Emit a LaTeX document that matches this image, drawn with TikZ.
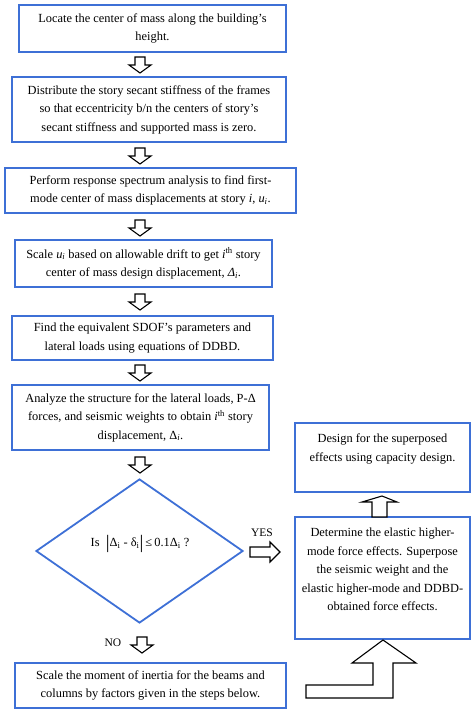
\documentclass[tikz,border=0pt]{standalone}
\usepackage{fontspec}
\setmainfont{Liberation Serif}
\usetikzlibrary{shapes.geometric}
\definecolor{boxblue}{RGB}{62,112,214}
\newcommand{\bigbar}{{\fontsize{19}{19}\selectfont\raisebox{-0.12em}{|}}}
\begin{document}
\begin{tikzpicture}[x=1pt,y=-1pt,
  box/.style={draw=boxblue, line width=1.8pt, fill=white, inner sep=0pt, align=center, font=\fontsize{12.4}{18.5}\selectfont},
  txt/.style={align=center, font=\fontsize{12.4}{18.5}\selectfont, inner sep=0pt},
  lbl/.style={font=\fontsize{11.5}{14}\selectfont, inner sep=0pt},
  hollow/.style={draw=black, line width=1.1pt, fill=white, line join=miter},
  downarr/.pic={\draw[hollow] (-5,0) -- (5,0) -- (5,8) -- (11,8) -- (0,16) -- (-11,8) -- (-5,8) -- cycle;}
]
\useasboundingbox (0,0) rectangle (474,714);

\node[box, minimum width=267, minimum height=47] (b1) at (152.5,28.5)
  {Locate the center of mass along the building’s\\height.};
\node[box, minimum width=274, minimum height=65] (b2) at (149,109.5)
  {Distribute the story secant stiffness of the frames\\so that eccentricity b/n the centers of story’s\\secant stiffness and supported mass is zero.};
\node[box, minimum width=291, minimum height=45] (b3) at (150.5,190.5)
  {Perform response spectrum analysis to find first-\\mode center of mass displacements at story \textit{i}, \textit{u\textsubscript{i}}.};
\node[box, minimum width=257, minimum height=47] (b4) at (143.5,263.5)
  {Scale \textit{u\textsubscript{i}} based on allowable drift to get \textit{i}\textsuperscript{th} story\\center of mass design displacement, \textit{Δ\textsubscript{i}}.};
\node[box, minimum width=261, minimum height=44] (b5) at (142.5,338)
  {Find the equivalent SDOF’s parameters and\\lateral loads using equations of DDBD.};
\node[box, minimum width=257, minimum height=65] (b6) at (140.5,417.5)
  {Analyze the structure for the lateral loads, P-Δ\\forces, and seismic weights to obtain \textit{i}\textsuperscript{th} story\\displacement, Δ\textsubscript{\textit{i}}.};
\node[diamond, draw=boxblue, line width=1.8pt, aspect=1.44, minimum width=207, minimum height=144, inner sep=0pt] (d) at (139.5,551) {};
\node[txt] (dt) at (140,544) {Is\ \ \bigbar Δ\textsubscript{i} - δ\textsubscript{i}\bigbar\,≤\,0.1Δ\textsubscript{i} ?};
\node[box, minimum width=271, minimum height=45] (b7) at (150.5,685.5)
  {Scale the moment of inertia for the beams and\\columns by factors given in the steps below.};
\node[box, minimum width=175, minimum height=122] (r1) at (382.5,578) {};
\node[txt] (r1t) at (382.5,569.5)
  {Determine the elastic higher-\\mode force effects. Superpose\\the seismic weight and the\\elastic higher-mode and DDBD-\\obtained force effects.};
\node[box, minimum width=175, minimum height=69] (r2) at (382.5,457.5) {};
\node[txt] (r2t) at (382.5,449)
  {Design for the superposed\\effects using capacity design.};

\node[lbl] (yes) at (262,533) {YES};
\node[lbl] (no) at (113,643) {NO};

\pic at (140,57) {downarr};
\pic at (140,148) {downarr};
\pic at (140,220) {downarr};
\pic at (140,294) {downarr};
\pic at (140,365) {downarr};
\pic at (140,457) {downarr};
\pic at (142,637) {downarr};

\draw[hollow] (250,547) -- (270,547) -- (270,542) -- (280,552) -- (270,562) -- (270,557) -- (250,557) -- cycle;
\draw[hollow] (372,517) -- (372,502) -- (362,502) -- (382,496) -- (397,502) -- (387,502) -- (387,517) -- cycle;
\draw[hollow] (306,685) -- (373,685) -- (373,663) -- (352,663) -- (383,640) -- (416,663) -- (393,663) -- (393,698) -- (306,698) -- cycle;
\end{tikzpicture}
\end{document}
